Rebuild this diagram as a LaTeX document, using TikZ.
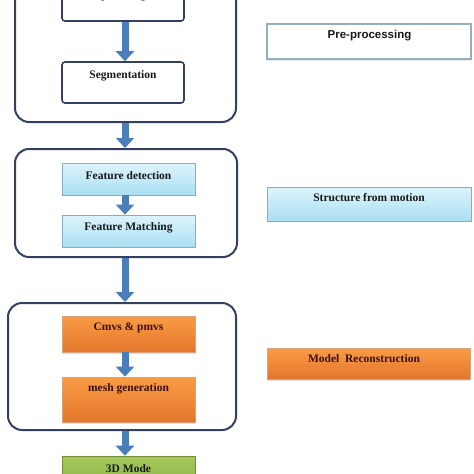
\documentclass[tikz,border=0pt]{standalone}
\usepackage{fontspec}
\setmainfont{Liberation Serif}
\newfontfamily\arialfont{Liberation Sans}
\usetikzlibrary{arrows.meta,shadows}
\definecolor{grpline}{HTML}{334062}
\definecolor{arrowblue}{HTML}{4A7EBB}
\definecolor{arrowedge}{HTML}{3A659A}
\definecolor{bluetop}{HTML}{DDF4FC}
\definecolor{bluebot}{HTML}{A9DFF3}
\definecolor{blueedge}{HTML}{86AFC4}
\definecolor{orangetop}{HTML}{FA9B45}
\definecolor{orangebot}{HTML}{E2772B}
\definecolor{orangeedge}{HTML}{D9A27A}
\definecolor{greentop}{HTML}{A6C95E}
\definecolor{greenbot}{HTML}{8EB143}
\definecolor{brown}{HTML}{3A1010}
\definecolor{preedge}{HTML}{95AFC2}
\tikzset{
  grp/.style={draw=grpline, line width=2pt, rounded corners=14pt, fill=white},
  wbox/.style={draw=grpline, line width=1.6pt, rounded corners=3pt, fill=white},
  bbox/.style={draw=blueedge, line width=0.8pt, top color=bluetop, bottom color=bluebot},
  obox/.style={draw=orangeedge, line width=0.8pt, top color=orangetop, bottom color=orangebot, drop shadow={shadow xshift=0pt, shadow yshift=-1.5pt, opacity=0.25}},
  gbox/.style={draw=greenbot!80!black, line width=0.6pt, top color=greentop, bottom color=greenbot},
  pbox/.style={draw=preedge, line width=1.2pt, fill=white, drop shadow={shadow xshift=0pt, shadow yshift=-1.5pt, opacity=0.2}},
  txt/.style={inner sep=0pt, font=\fontsize{11.5}{13}\selectfont\bfseries, text=black!90},
  otxt/.style={txt, text=brown},
  stxt/.style={inner sep=0pt, font=\fontsize{11.5}{13}\selectfont\arialfont\bfseries, text=black!90},
  bigarrow/.style={line width=7pt, draw=arrowblue, -{Triangle[width=18pt,length=10pt,fill=arrowblue]}, shorten >=0pt},
}
\begin{document}
\begin{tikzpicture}[x=1pt,y=-1pt]
\useasboundingbox (0,0) rectangle (474,474);
\begin{scope}
\clip (0,0) rectangle (474,474);
% groups
\node[grp, minimum width=221pt, minimum height=142pt] (g1) at (125.5,51) {};
\node[grp, minimum width=222pt, minimum height=108pt] (g2) at (126,203) {};
\node[grp, minimum width=228pt, minimum height=127pt] (g3) at (122,366.5) {};
% inner boxes
\node[wbox, minimum width=122pt, minimum height=31pt] (inp) at (123,5.5) {};
\node[txt, anchor=base] (inpt) at (123,-1.5) {Input Images};
\node[wbox, minimum width=122pt, minimum height=41pt] (seg) at (123,82.5) {};
\node[txt] (segt) at (123,75.5) {Segmentation};
\node[bbox, minimum width=133pt, minimum height=32pt] (fd) at (128.5,179) {};
\node[txt] (fdt) at (128.5,176) {Feature detection};
\node[bbox, minimum width=133pt, minimum height=32pt] (fm) at (128.5,231) {};
\node[txt] (fmt) at (128.5,228) {Feature Matching};
\node[obox, minimum width=133pt, minimum height=36pt] (cm) at (128.5,334) {};
\node[otxt] (cmt) at (128.5,328) {Cmvs \& pmvs};
\node[obox, minimum width=133pt, minimum height=45pt] (mg) at (128.5,399.5) {};
\node[otxt] (mgt) at (128.5,389) {mesh generation};
\node[gbox, minimum width=133pt, minimum height=36pt] (m3) at (128.5,474) {};
\node[txt, anchor=base] (m3t) at (128.5,472) {3D Mode};
% arrows
\coordinate (ax) at (125,0);
\draw[bigarrow] (inp.south -| ax) -- (seg.north -| ax);
\draw[bigarrow] (g1.south -| ax) -- (g2.north -| ax);
\draw[bigarrow] (fd.south -| ax) -- (fm.north -| ax);
\draw[bigarrow] (g2.south -| ax) -- (g3.north -| ax);
\draw[bigarrow] (cm.south -| ax) -- (mg.north -| ax);
\draw[bigarrow] (g3.south -| ax) -- (m3.north -| ax);
% right labels
\node[pbox, minimum width=204pt, minimum height=35pt] (pre) at (369,41.5) {};
\node[stxt] (pret) at (369.5,36) {Pre-processing};
\node[bbox, minimum width=204pt, minimum height=34pt] (sfm) at (369,204) {};
\node[txt] (sfmt) at (369,197.5) {Structure from motion};
\node[obox, minimum width=203pt, minimum height=31pt] (mr) at (368.5,363.5) {};
\node[otxt] (mrt) at (364,359) {Model\ \ Reconstruction};
\end{scope}
\end{tikzpicture}
\end{document}
